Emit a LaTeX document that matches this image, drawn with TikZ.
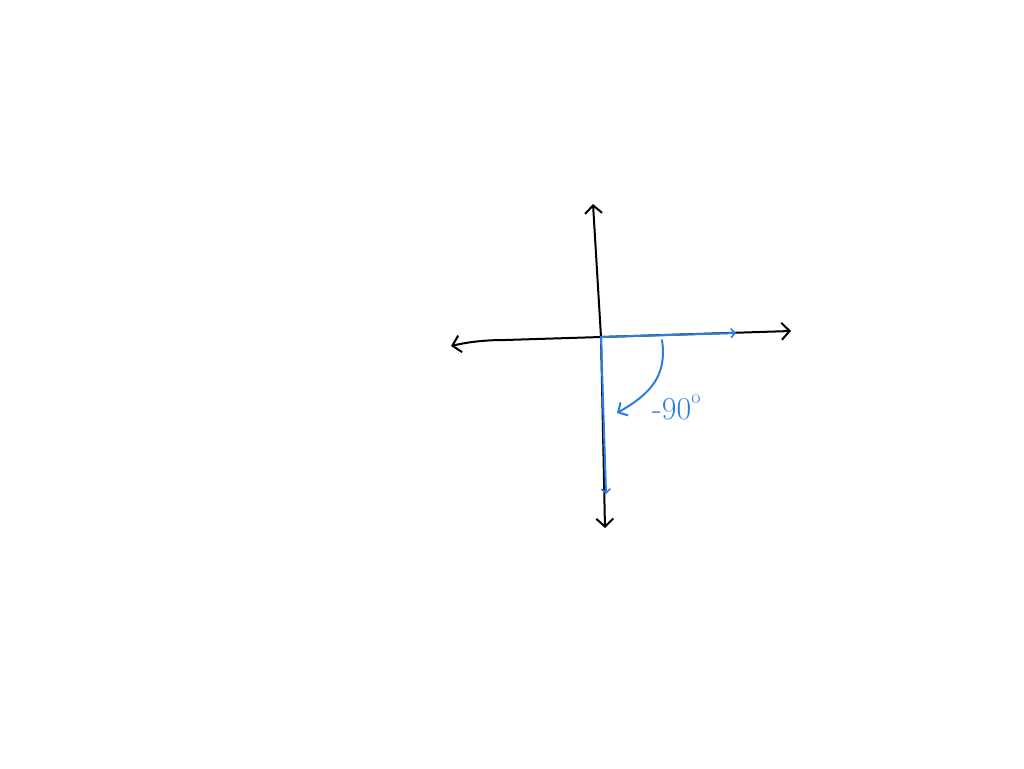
\documentclass[tikz,border=0pt]{standalone}
\usetikzlibrary{arrows.meta}
\definecolor{penblue}{HTML}{2B7DE0}
\begin{document}
\begin{tikzpicture}[x=1pt,y=-1pt,
  axis/.style={draw=black,line width=2pt,line cap=round,-{Straight Barb[length=8pt,width=17pt,line width=2pt]}},
  vec/.style={draw=penblue,line width=2pt,line cap=round,-{Straight Barb[length=4pt,width=9pt,line width=1.6pt]}},
  angarr/.style={draw=penblue,line width=2pt,line cap=round,-{Straight Barb[length=7pt,width=15pt,line width=2pt]}},
  lbl/.style={text=penblue,font=\fontsize{32}{34}\selectfont,inner sep=0pt}]
\useasboundingbox (0,0) rectangle (1024,768);
\coordinate (O) at (601,337);
\coordinate (T) at (593,204);
\coordinate (B) at (605,528);
\coordinate (L) at (451,346);
\coordinate (R) at (791,331);
\coordinate (Bh) at (736,333);
\coordinate (Bv) at (606,494);
\coordinate (As) at (662,340);
\coordinate (Ae) at (617,413);
% axes
\draw[axis] (O) -- (T);
\draw[axis] (O) -- (B);
\draw[axis] (O) -- (505,340) .. controls (485,340) and (468,342) .. (L);
\draw[axis] (O) -- (R);
% blue vectors
\draw[vec] (O) -- (Bh);
\draw[vec] (O) -- (Bv);
% angle arrow
\draw[angarr] (As) .. controls (667,375) and (652,393) .. (Ae);
\node[lbl,anchor=base west] (ang) at (652,419) {-90\raisebox{0.5em}{\fontsize{20}{20}\selectfont o}};
\end{tikzpicture}
\end{document}
